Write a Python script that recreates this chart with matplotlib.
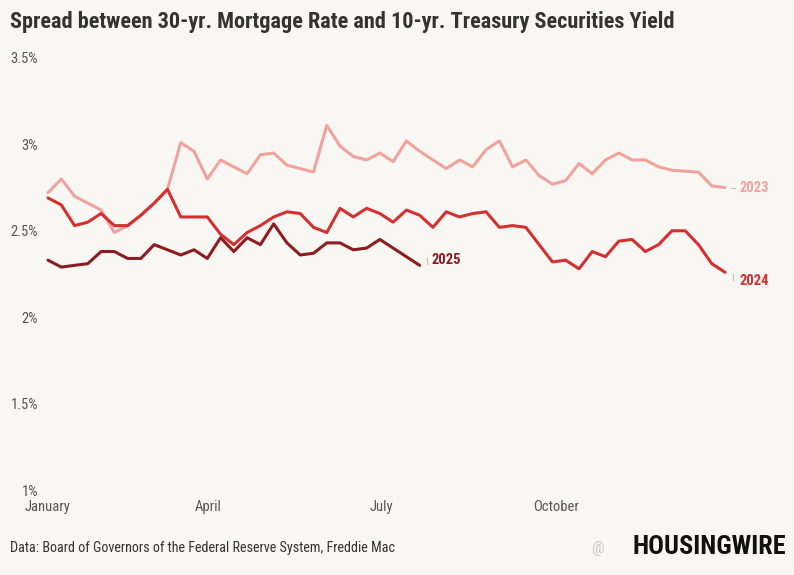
import matplotlib
matplotlib.use("Agg")
import matplotlib.pyplot as plt
from matplotlib.transforms import ScaledTranslation
from matplotlib import font_manager as fm

# ---------------- data (weekly spread, %) ----------------
spread_2023 = [2.72, 2.80, 2.70, 2.66, 2.62, 2.49, 2.53, 2.59, 2.66, 2.74,
               3.01, 2.96, 2.80, 2.91, 2.87, 2.83, 2.94, 2.95, 2.88, 2.86,
               2.84, 3.11, 2.99, 2.93, 2.91, 2.95, 2.90, 3.02, 2.96, 2.91,
               2.86, 2.91, 2.87, 2.97, 3.02, 2.87, 2.91, 2.82, 2.77, 2.79,
               2.89, 2.83, 2.91, 2.95, 2.91, 2.91, 2.87, 2.85, 2.845, 2.84,
               2.76, 2.75]
spread_2024 = [2.69, 2.65, 2.53, 2.55, 2.60, 2.53, 2.53, 2.59, 2.66, 2.74,
               2.58, 2.58, 2.58, 2.48, 2.42, 2.49, 2.53, 2.58, 2.61, 2.60,
               2.52, 2.49, 2.63, 2.58, 2.63, 2.60, 2.55, 2.62, 2.59, 2.52,
               2.61, 2.58, 2.60, 2.61, 2.52, 2.53, 2.52, 2.42, 2.32, 2.33,
               2.28, 2.38, 2.35, 2.44, 2.45, 2.38, 2.42, 2.50, 2.50, 2.42,
               2.31, 2.26]
spread_2025 = [2.33, 2.29, 2.30, 2.31, 2.38, 2.38, 2.34, 2.34, 2.42, 2.39,
               2.36, 2.39, 2.34, 2.46, 2.38, 2.46, 2.42, 2.54, 2.43, 2.36,
               2.37, 2.43, 2.43, 2.39, 2.40, 2.45, 2.40, 2.35, 2.30]
years = ["2023", "2024", "2025"]
month_labels = ["January", "April", "July", "October"]
month_weeks = [0, 12.1, 25.1, 38.3]
y_ticks = [1.0, 1.5, 2.0, 2.5, 3.0, 3.5]
y_tick_labels = ["1%", "1.5%", "2%", "2.5%", "3%", "3.5%"]

# ---------------- font choice ----------------
entries = fm.fontManager.ttflist
names = {f.name for f in entries}
font_kw = {}
for cand in ["Roboto Condensed", "Liberation Sans Narrow", "Open Sans Condensed",
             "Noto Sans Condensed", "DejaVu Sans Condensed"]:
    if cand in names:
        plt.rcParams["font.family"] = [cand, "DejaVu Sans"]
        break
else:
    cond_fams = [f.name for f in entries
                 if str(f.stretch) in ("condensed", "semi-condensed", "extra-condensed")
                 or (isinstance(f.stretch, int) and f.stretch < 500)]
    pref = [n for n in ["Roboto", "Noto Sans", "Open Sans", "DejaVu Sans"] if n in cond_fams]
    if pref:
        plt.rcParams["font.family"] = [pref[0], "DejaVu Sans"]
        font_kw = {"fontstretch": "condensed"}
    else:
        plt.rcParams["font.family"] = ["Roboto", "DejaVu Sans"]
plt.rcParams["font.stretch"] = font_kw.get("fontstretch", "normal")

BG = "#f9f7f4"
colors = {"2023": "#f0a39c", "2024": "#d3302f", "2025": "#8c1c1f"}
W, H = 794, 575

fig = plt.figure(figsize=(W / 100, H / 100), dpi=100, facecolor=BG)
ax = fig.add_axes([48 / W, 1 - 490 / H, 677 / W, 432 / H])
ax.set_facecolor(BG)
ax.set_xlim(0, 51)
ax.set_ylim(1, 3.5)
for s in ax.spines.values():
    s.set_visible(False)

series = {"2023": spread_2023, "2024": spread_2024, "2025": spread_2025}
for yr in years:
    vals = series[yr]
    ax.plot(range(len(vals)), vals, color=colors[yr], lw=2.2,
            solid_joinstyle="round", solid_capstyle="round", clip_on=False,
            zorder=3 if yr != "2023" else 2)

ax.set_yticks(y_ticks)
ax.set_yticklabels(y_tick_labels)
ax.set_xticks(month_weeks)
ax.set_xticklabels(month_labels)
ax.tick_params(axis="both", length=0, labelsize=10.5, colors="#555555")
ax.tick_params(axis="y", pad=7)
ax.tick_params(axis="x", pad=7)

# end labels with tiny connectors
def end_label(yr, dx_px, dy_px, seg):
    vals = series[yr]
    xl, yl = len(vals) - 1, vals[-1]
    base = ScaledTranslation(xl, yl, ax.transData)
    tr = fig.dpi_scale_trans + base
    (x0, y0), (x1, y1) = seg
    ax.plot([x0 / 100, x1 / 100], [y0 / 100, y1 / 100], transform=tr,
            color="#bbbbbb", lw=0.8, clip_on=False)
    ax.text(dx_px / 100, dy_px / 100, yr, transform=tr, color=colors[yr],
            fontsize=10.5, fontweight="bold", ha="left", va="center")

end_label("2023", 15, 0, ((6, 0), (10, 0)))
end_label("2024", 14, -9, ((8, -2), (8, -8)))
end_label("2025", 12, 5, ((8, 1), (7.5, 7)))

# title and source, scaled to the reference widths
renderer = fig.canvas.get_renderer()
def fit_text(x_px, y_px, s, width_px, size, **kw):
    t = fig.text(x_px / W, 1 - y_px / H, s, fontsize=size, ha="left", va="center", **kw)
    w = t.get_window_extent(renderer).width
    t.set_fontsize(size * width_px / w)
    return t

fit_text(10, 22, "Spread between 30-yr. Mortgage Rate and 10-yr. Treasury Securities Yield",
         664, 15, fontweight="bold", color="#333333")
fit_text(10, 548, "Data: Board of Governors of the Federal Reserve System, Freddie Mac",
         383, 10, color="#333333")
fig.text(598 / W, 1 - 549 / H, "@", fontsize=12, color="#cccccc", ha="center", va="center")
fit_text(632, 547, "HOUSINGWIRE", 153, 13, fontweight="bold", color="#111111")

fig.savefig("out.png", dpi=100, facecolor=BG)
